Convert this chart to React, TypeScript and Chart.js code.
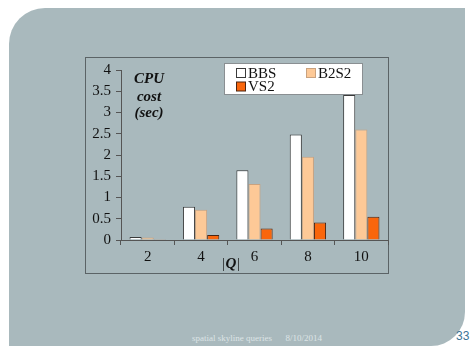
import React, { useEffect, useRef } from "react";
import { Chart, registerables } from "chart.js";

Chart.register(...registerables);

const categories = ["2", "4", "6", "8", "10"];
const bbs = [0.07, 0.78, 1.64, 2.48, 3.41];
const b2s2 = [0.06, 0.71, 1.32, 1.96, 2.6];
const vs2 = [0.02, 0.12, 0.27, 0.41, 0.55];
const yTitleLines = ["CPU", "cost", "(sec)"];
const xTitle = "Q";

const SERIF = "'Liberation Serif', 'Times New Roman', serif";

const overlayPlugin = {
  id: "overlay",
  afterDraw(chart: any) {
    const ctx = chart.ctx as CanvasRenderingContext2D;
    const area = chart.chartArea;
    ctx.save();
    ctx.fillStyle = "#111";
    ctx.font = `bold italic 15px ${SERIF}`;
    ctx.textAlign = "center";
    ctx.textBaseline = "middle";
    const ys = [79, 97, 113];
    yTitleLines.forEach((t, i) => ctx.fillText(t, area.left + 28, ys[i]));

    const cx = 231;
    const cy = 264;
    ctx.font = `bold italic 15px ${SERIF}`;
    const qw = ctx.measureText(xTitle).width;
    ctx.fillText(xTitle, cx, cy);
    ctx.font = `14px ${SERIF}`;
    ctx.fillText("|", cx - qw / 2 - 2, cy);
    ctx.fillText("|", cx + qw / 2 + 2, cy);

    const lx = 224.5, ly = 63.5, lw = 138, lh = 31;
    ctx.fillStyle = "#ffffff";
    ctx.fillRect(lx, ly, lw, lh);
    ctx.strokeStyle = "#8a8f92";
    ctx.lineWidth = 1;
    ctx.strokeRect(lx, ly, lw, lh);
    const pos = [
      [236, 73],
      [306, 73],
      [236, 86.5],
    ];
    ctx.font = `15px ${SERIF}`;
    ctx.textAlign = "left";
    chart.data.datasets.forEach((ds: any, i: number) => {
      const [px, py] = pos[i];
      ctx.fillStyle = ds.backgroundColor;
      ctx.fillRect(px + 0.5, py - 4.5, 9, 9);
      ctx.strokeStyle = ds.borderColor;
      ctx.strokeRect(px + 0.5, py - 4.5, 9, 9);
      ctx.fillStyle = "#111";
      ctx.fillText(ds.label, px + 12, py + 1);
    });
    ctx.restore();
  },
};

export default function App() {
  const ref = useRef<HTMLCanvasElement>(null);
  useEffect(() => {
    document.body.style.margin = "0";
    const chart = new Chart(ref.current!, {
      type: "bar",
      data: {
        labels: categories,
        datasets: [
          { label: "BBS", data: bbs, backgroundColor: "#ffffff", borderColor: "#3a3a3a", borderWidth: 1 },
          { label: "B2S2", data: b2s2, backgroundColor: "#fdc997", borderColor: "#c9a27f", borderWidth: 1 },
          { label: "VS2", data: vs2, backgroundColor: "#f9660c", borderColor: "#4a2412", borderWidth: 1 },
        ],
      },
      options: {
        responsive: false,
        animation: false,
        layout: { padding: { left: 85, top: 70, right: 86, bottom: 80 } },
        datasets: { bar: { barPercentage: 1, categoryPercentage: 0.68 } },
        plugins: { legend: { display: false }, tooltip: { enabled: false } },
        scales: {
          x: {
            afterFit(scale: any) { scale.height = 35; },
            grid: { offset: true, drawOnChartArea: false, tickLength: 5, color: "#555" },
            border: { color: "#555", width: 1 },
            ticks: { color: "#111", font: { family: SERIF, size: 15 }, padding: 3 },
          },
          y: {
            min: 0,
            max: 4,
            afterFit(scale: any) { scale.width = 36; },
            grid: { drawOnChartArea: false, tickLength: 5, color: "#555" },
            border: { color: "#555", width: 1 },
            ticks: {
              stepSize: 0.5,
              color: "#111",
              font: { family: SERIF, size: 15 },
              padding: 5,
              callback: (v: any) => String(Number(v)),
            },
          },
        },
      },
      plugins: [overlayPlugin],
    });
    return () => chart.destroy();
  }, []);

  return (
    <div style={{ position: "fixed", left: 0, top: 0, width: 474, height: 355, background: "#ffffff", overflow: "hidden" }}>
      <div
        style={{
          position: "absolute",
          left: 9,
          top: 8,
          width: 456,
          height: 338,
          background: "#a9b9bd",
          borderTopLeftRadius: 36,
          borderBottomRightRadius: 34,
        }}
      />
      <div
        style={{
          position: "absolute",
          left: 85,
          top: 57,
          width: 302,
          height: 215,
          border: "1px solid #5b6366",
        }}
      />
      <div
        style={{
          position: "absolute",
          left: 192,
          top: 333,
          fontFamily: "'Liberation Serif', serif",
          fontSize: 9,
          color: "#dde4e6",
          whiteSpace: "pre",
        }}
      >
        {"spatial skyline queries      8/10/2014"}
      </div>
      <div
        style={{
          position: "absolute",
          left: 456,
          top: 329,
          fontFamily: "'Liberation Sans', Arial, sans-serif",
          fontSize: 12,
          color: "#3b7496",
        }}
      >
        33
      </div>
      <canvas ref={ref} width={474} height={355} style={{ position: "absolute", left: 0, top: 0 }} />
    </div>
  );
}
